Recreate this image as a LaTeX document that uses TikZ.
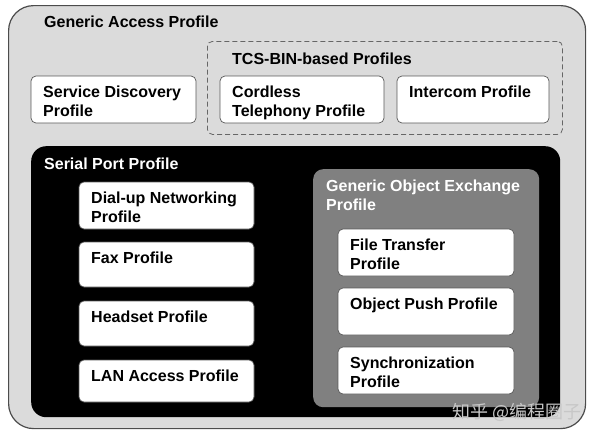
\documentclass[tikz,border=0pt]{standalone}
\usepackage{fontspec}
\setmainfont{Liberation Sans}
\newfontfamily\cjk{Noto Sans CJK SC}
\usetikzlibrary{calc}

\tikzset{
  profbox/.style={draw=black!65, fill=white, rounded corners=5pt, line width=0.7pt,
    anchor=north west, inner sep=0pt, outer sep=0pt},
  lbl/.style={anchor=north west, inner sep=0pt, align=left,
    font=\fontsize{16}{19}\selectfont\bfseries},
}

\begin{document}
\begin{tikzpicture}[x=1pt, y=-1pt]
\useasboundingbox (0,0) rectangle (596,439);

% Generic Access Profile
\node[draw=black!70, fill=black!14, rounded corners=25pt, line width=1.2pt, anchor=north west,
  minimum width=577, minimum height=423, inner sep=0pt] (gap) at (8,5) {};
\node[lbl] (gap-t) at (44,16) {Generic Access Profile};

% TCS-BIN group
\node[draw=black!60, dash pattern=on 5pt off 3pt, rounded corners=5pt, line width=0.8pt,
  anchor=north west, minimum width=355, minimum height=93, inner sep=0pt] (tcs) at (207,41) {};
\node[lbl] (tcs-t) at (232,53) {TCS-BIN-based Profiles};

% Top row
\foreach \name/\x/\w/\txt in {sdp/31/165/{Service Discovery\\Profile},
    ctp/220/164/{Cordless\\Telephony Profile}, icp/397/152/{Intercom Profile}} {
  \node[profbox, minimum width=\w, minimum height=47] (\name) at (\x,76) {};
  \node[lbl] (\name-t) at ($(\name.north west)+(12,10)$) {\txt};
}

% Serial Port Profile
\node[fill=black, rounded corners=15pt, anchor=north west, inner sep=0pt,
  minimum width=529, minimum height=271] (spp) at (31,146) {};
\node[lbl, text=white] (spp-t) at (44,158) {Serial Port Profile};

\foreach \name/\y/\h/\txt in {dun/182/47/{Dial-up Networking\\Profile},
    fax/242/45/{Fax Profile}, hsp/301/45/{Headset Profile},
    lap/360/42/{LAN Access Profile}} {
  \node[profbox, minimum width=175, minimum height=\h] (\name) at (79,\y) {};
  \node[lbl] (\name-t) at ($(\name.north west)+(12,10)$) {\txt};
}

% Generic Object Exchange Profile
\node[fill=black!50, rounded corners=10pt, anchor=north west, inner sep=0pt,
  minimum width=226, minimum height=238] (goep) at (313,169) {};
\node[lbl, text=white] (goep-t) at (326,180) {Generic Object Exchange\\Profile};

\foreach \name/\y/\txt in {ftp/229/{File Transfer\\Profile},
    opp/288/{Object Push Profile}, syn/347/{Synchronization\\Profile}} {
  \node[profbox, minimum width=176, minimum height=47] (\name) at (338,\y) {};
  \node[lbl] (\name-t) at ($(\name.north west)+(12,10)$) {\txt};
}

% watermark
\node[anchor=north west, inner sep=0pt, text=black!22,
  font=\cjk\fontsize{18}{18}\selectfont] (wm) at (452,403) {知乎 @编程圈子};

\end{tikzpicture}
\end{document}
